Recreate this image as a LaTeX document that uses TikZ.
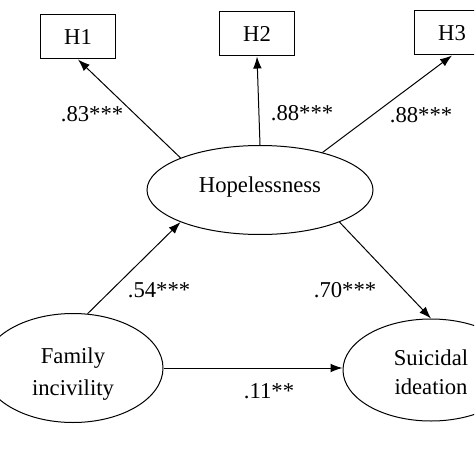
\documentclass[tikz,border=0pt]{standalone}
\usepackage{fontspec}
\setmainfont{Liberation Serif}
\usetikzlibrary{shapes.geometric,arrows.meta}

\begin{document}
\begin{tikzpicture}[x=0.75pt,y=0.75pt,yscale=-1,xscale=1,
	every node/.style={font=\fontsize{17}{24.5}\selectfont},
	latent/.style={draw,ellipse,line width=0.75,inner sep=0pt,align=center},
	indicator/.style={draw,rectangle,line width=0.75,minimum width=56.25pt,minimum height=33pt,inner sep=0pt},
	path/.style={line width=0.75,-{Latex[length=9pt,width=6.5pt]}}]
	\useasboundingbox (0,0) rectangle (474,474);
	\clip (0,0) rectangle (474,474);

	\node [indicator] (h1) at (78,37) {H1};
	\node [indicator] (h2) at (257,34) {H2};
	\node [indicator] (h3) at (452,33) {H3};
	\node [latent,minimum width=169.5pt,minimum height=66.75pt,text depth=8pt] (hope) at (260,190) {Hopelessness};
	\node [latent,minimum width=135pt,minimum height=81.75pt,
		label={[align=center,yshift=-4.5pt]center:Family\\incivility}] (fam) at (73,368) {};
	\node [latent,minimum width=132pt,minimum height=76.5pt,
		label={[align=center,yshift=-1.5pt,font=\fontsize{17}{21.5}\selectfont]center:Suicidal\\ideation}] (sui) at (431,370) {};

	\draw [path] (hope.158) -- (h1.south);
	\draw [path] (hope.north) -- (h2.south);
	\draw [path] (hope.31) -- (h3.south);
	\draw [path] (fam.75) -- (hope.202);
	\draw [path] (hope.-22) -- (sui.north);
	\draw [path] (fam.east) -- (sui.west |- fam.east);

	\node (l1) at (92,114) {.83***};
	\node (l2) at (302,113) {.88***};
	\node (l3) at (421,115) {.88***};
	\node (l4) at (159,290) {.54***};
	\node (l5) at (345,290) {.70***};
	\node (l6) at (269,391) {.11**};
\end{tikzpicture}
\end{document}
